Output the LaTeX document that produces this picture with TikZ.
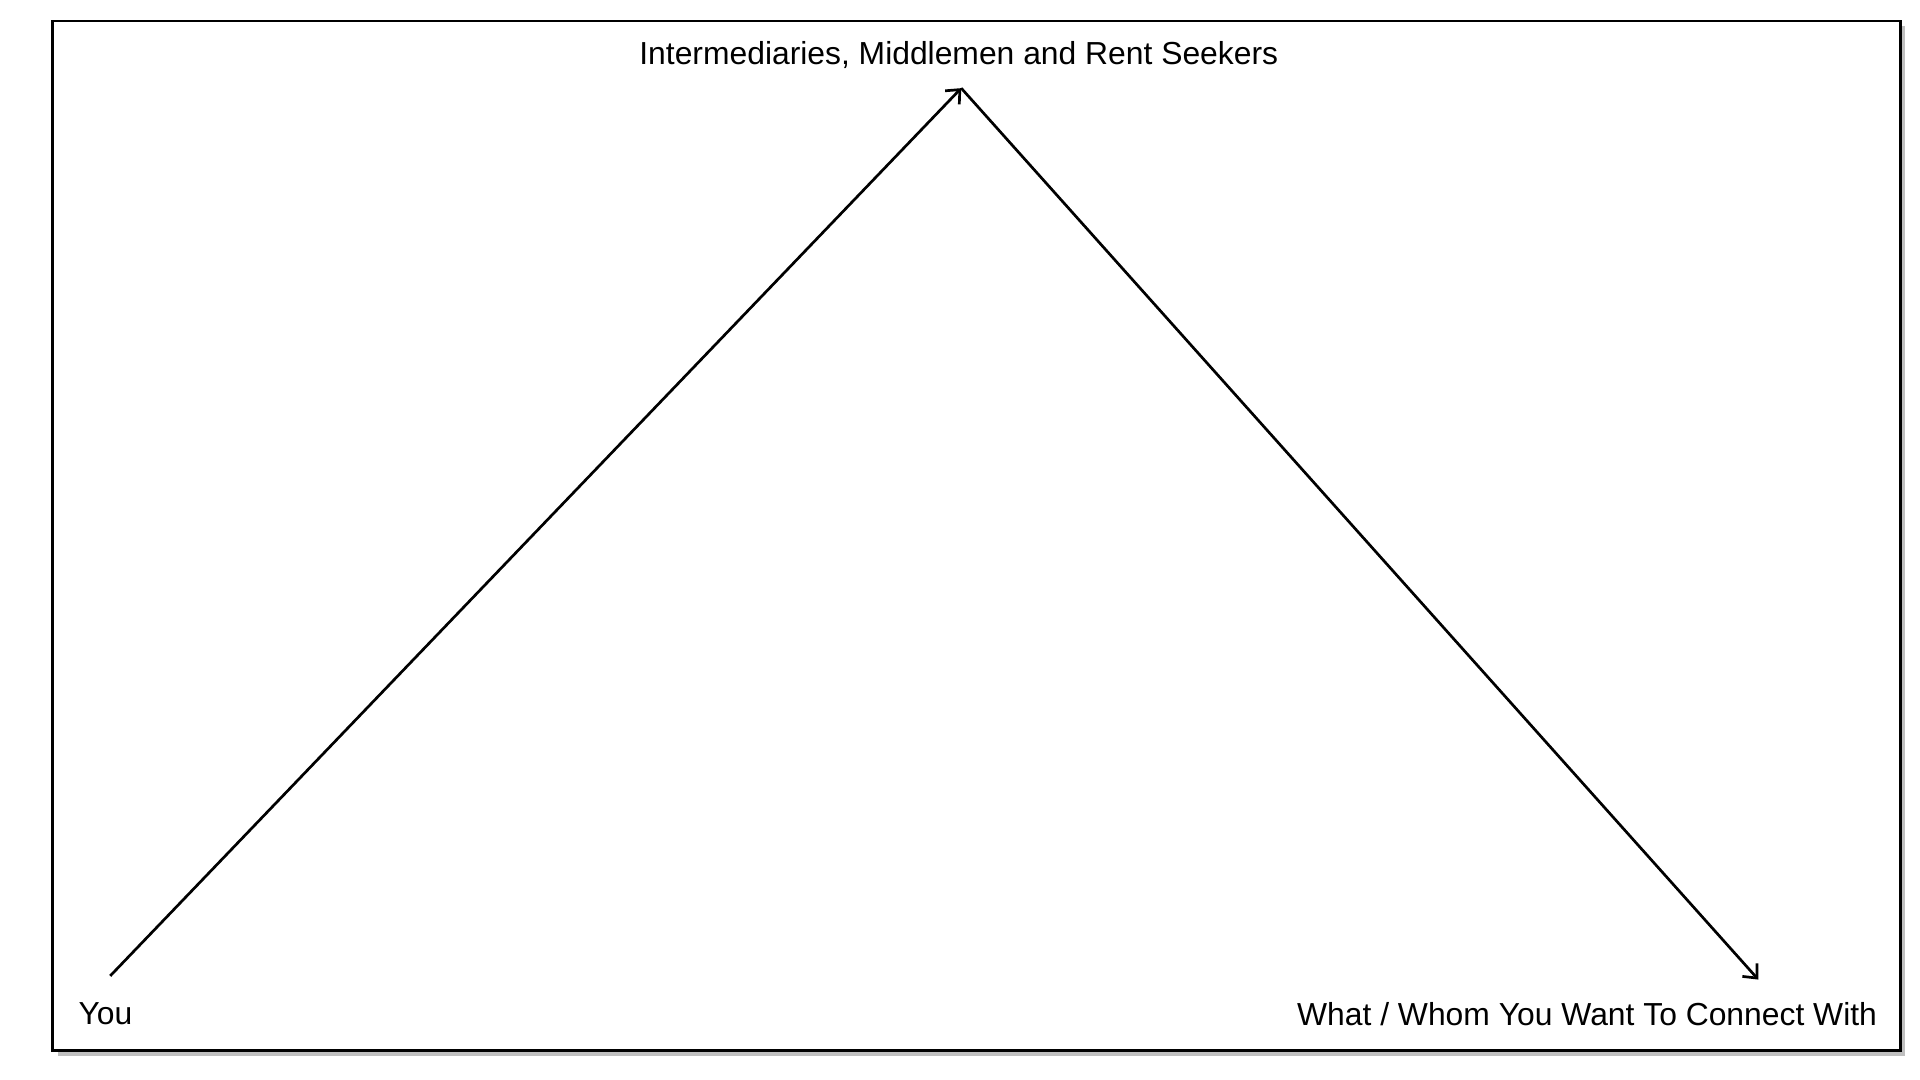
\documentclass[tikz,border=0pt]{standalone}
\usepackage{fontspec}
\setmainfont{Liberation Sans}
\usetikzlibrary{arrows.meta}
\begin{document}
\begin{tikzpicture}[x=1pt,y=-1pt,
  lbl/.style={font=\fontsize{26}{30}\selectfont,inner sep=0pt},
  conn/.style={line width=2.2pt,-{Straight Barb[length=9pt,width=16pt,line width=2.2pt]}}]
\useasboundingbox (0,0) rectangle (1568,882);
\fill[black!25] (47,21) rectangle (1556,862);
\draw[line width=2pt,fill=white] (43,17) rectangle (1552,858);
\node[lbl] (mid) at (783,45) {Intermediaries, Middlemen and Rent Seekers};
\node[lbl,anchor=west] (you) at (64,828) {You};
\node[lbl,anchor=east] (what) at (1533,828) {What / Whom You Want To Connect With};
\coordinate (a) at (90,797);
\coordinate (top) at (785,72);
\coordinate (b) at (1436,800);
\draw[conn] (a) -- (top);
\draw[conn] (top) -- (b);
\end{tikzpicture}
\end{document}
